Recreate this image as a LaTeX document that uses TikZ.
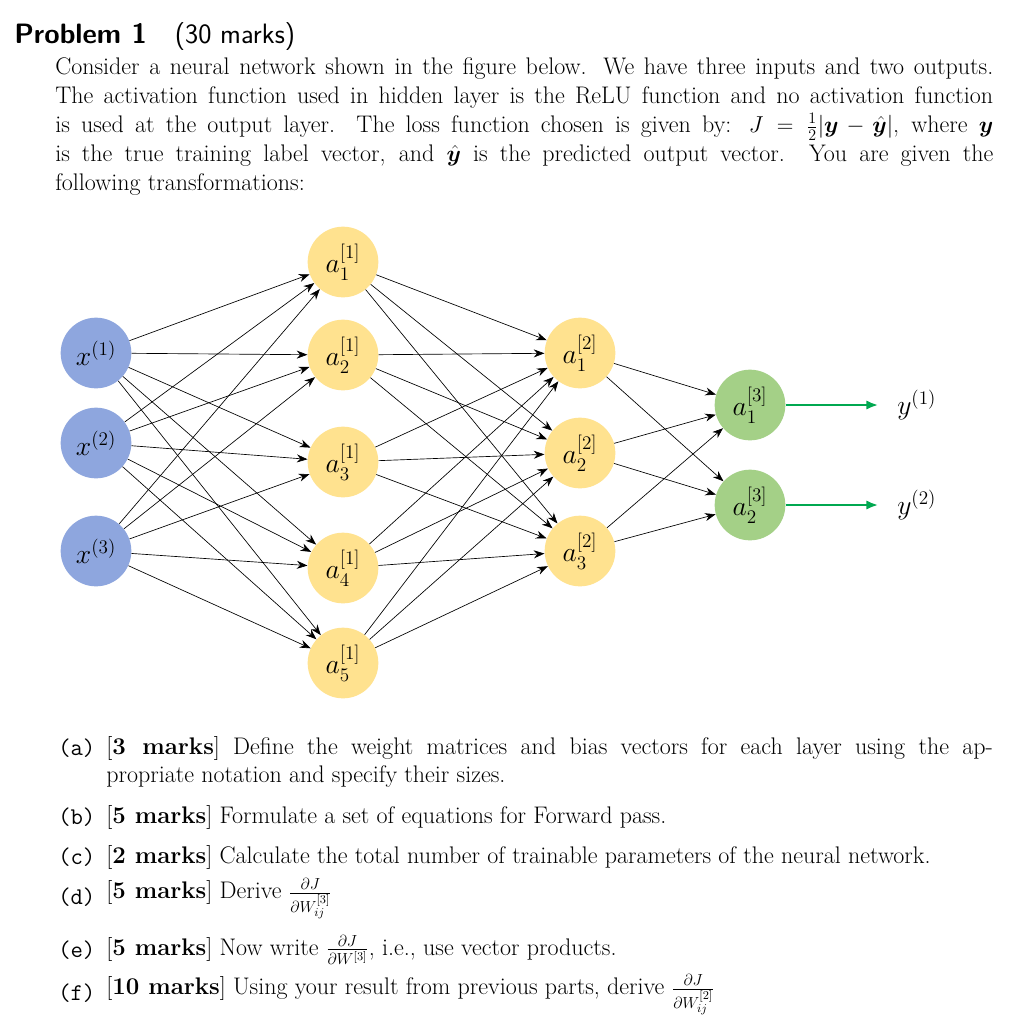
\documentclass[tikz,border=0pt]{standalone}
\usepackage{amsmath,bm}
\usetikzlibrary{arrows.meta}
\definecolor{inblue}{RGB}{142,166,222}
\definecolor{hidy}{RGB}{255,226,143}
\definecolor{outg}{RGB}{164,208,135}
\definecolor{arrg}{RGB}{0,168,80}
\begin{document}
\begin{tikzpicture}[x=0.75pt,y=-0.75pt,
  neuron/.style={circle,minimum size=53pt,inner sep=0pt,font=\fontsize{21}{23}\selectfont},
  inn/.style={neuron,fill=inblue},
  hid/.style={neuron,fill=hidy},
  outn/.style={neuron,fill=outg},
  edge/.style={-{Stealth[length=8pt,width=6pt]},line width=0.5pt},
  txt/.style={anchor=west,inner sep=0pt,font=\fontsize{18}{21.75}\selectfont},
  lbl/.style={anchor=west,inner sep=0pt,font=\fontsize{18}{21.75}\ttfamily}]
\useasboundingbox (0,0) rectangle (1018,1032);
\fill[white] (0,0) rectangle (1018,1032);
\node[txt,font=\fontsize{21}{25}\sffamily] (title) at (14,37) {\textbf{Problem 1}\quad (30 marks)};
\node[txt] (l1) at (55,69) {\makebox[703.5pt][s]{Consider a neural network shown in the figure below. We have three inputs and two outputs.}};
\node[txt] (l2) at (55,98) {\makebox[703.5pt][s]{The activation function used in hidden layer is the ReLU function and no activation function}};
\node[txt] (l3) at (55,127) {\makebox[703.5pt][s]{is used at the output layer. The loss function chosen is given by: $J=\frac{1}{2}|\bm{y}-\hat{\bm{y}}|$, where $\bm{y}$}};
\node[txt] (l4) at (55,156) {\makebox[703.5pt][s]{is the true training label vector, and $\hat{\bm{y}}$ is the predicted output vector. You are given the}};
\node[txt] (l5) at (55,185) {following transformations:};
% network
\foreach \i/\y in {1/353,2/443,3/551} \node[inn] (x\i) at (96,\y) {$x^{(\i)}$};
\foreach \i/\y in {1/262,2/355,3/462,4/568,5/663} \node[hid] (h\i) at (343,\y) {$a^{[1]}_{\i}$};
\foreach \i/\y in {1/353,2/453,3/551} \node[hid] (g\i) at (580,\y) {$a^{[2]}_{\i}$};
\foreach \i/\y in {1/405,2/505} \node[outn] (o\i) at (750,\y) {$a^{[3]}_{\i}$};
\foreach \i/\y in {1/405,2/505} {
  \node[anchor=west,inner sep=0pt,font=\fontsize{21}{23}\selectfont] (y\i) at (897,\y) {$y^{(\i)}$};
  \draw[-{Latex[length=9pt,width=7pt]},arrg,line width=2.2pt] (o\i) -- ([xshift=-14pt]y\i.west);}
\foreach \a in {1,2,3} \foreach \b in {1,...,5} \draw[edge] (x\a) -- (h\b);
\foreach \a in {1,...,5} \foreach \b in {1,2,3} \draw[edge] (h\a) -- (g\b);
\foreach \a in {1,2,3} \foreach \b in {1,2} \draw[edge] (g\a) -- (o\b);
% questions
\node[lbl] (qa) at (58,748) {(a)};
\node[txt] (ta1) at (106,748) {\makebox[665pt][s]{[\textbf{3 marks}] Define the weight matrices and bias vectors for each layer using the ap-}};
\node[txt] (ta2) at (106,777) {propriate notation and specify their sizes.};
\node[lbl] (qb) at (58,817) {(b)};
\node[txt] (tb) at (106,817) {[\textbf{5 marks}] Formulate a set of equations for Forward pass.};
\node[lbl] (qc) at (58,857) {(c)};
\node[txt] (tc) at (106,857) {[\textbf{2 marks}] Calculate the total number of trainable parameters of the neural network.};
\node[lbl] (qd) at (58,897) {(d)};
\node[txt] (td) at (106,899) {[\textbf{5 marks}] Derive $\frac{\partial J}{\partial W^{[3]}_{ij}}$};
\node[lbl] (qe) at (58,950) {(e)};
\node[txt] (te) at (106,950) {[\textbf{5 marks}] Now write $\frac{\partial J}{\partial W^{[3]}}$, i.e., use vector products.};
\node[lbl] (qf) at (58,993) {(f)};
\node[txt] (tf) at (106,995) {[\textbf{10 marks}] Using your result from previous parts, derive $\frac{\partial J}{\partial W^{[2]}_{ij}}$};
\end{tikzpicture}
\end{document}
